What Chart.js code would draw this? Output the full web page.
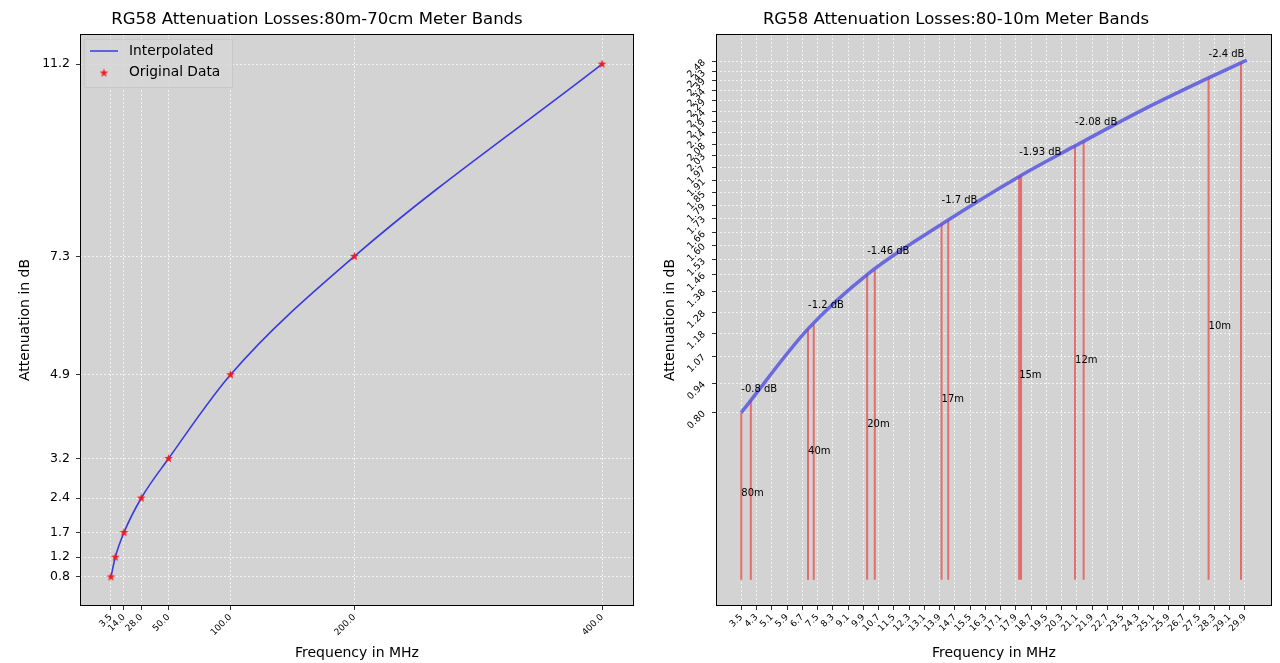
<!DOCTYPE html>
<html>
<head>
<meta charset="utf-8">
<script src="https://cdn.jsdelivr.net/npm/chart.js@4.4.1/dist/chart.umd.min.js"></script>
<style>
  html, body { margin: 0; padding: 0; background: #fff; }
  #wrap { position: relative; width: 1280px; height: 663px; }
  .box { position: absolute; top: 0; width: 640px; height: 663px; }
</style>
</head>
<body>
<div id="wrap">
  <div class="box" style="left:0"><canvas id="allBands" width="640" height="663"></canvas></div>
  <div class="box" style="left:640px"><canvas id="hfBands" width="640" height="663"></canvas></div>
</div>
<script>
// left chart: 80m - 70cm
const allFreq = [3.5, 7.0, 14.0, 28.0, 50.0, 100.0, 200.0, 400.0];
const allLoss = [0.8, 1.2, 1.7, 2.4, 3.2, 4.9, 7.3, 11.2];
const allFreqTicks = [3.5, 14.0, 28.0, 50.0, 100.0, 200.0, 400.0];
const allLossTicks = [0.8, 1.2, 1.7, 2.4, 3.2, 4.9, 7.3, 11.2];

// right chart: 80m - 10m
const hfFreq = [3.5, 7.0, 10.1, 14.0, 18.1, 21.0, 24.5, 28.0, 30.0];
const hfLoss = [0.80, 1.20, 1.46, 1.70, 1.93, 2.075, 2.245, 2.40, 2.485];
const bandEdges = [3.5, 4.0, 7.0, 7.3, 10.1, 10.5, 14.0, 14.35, 18.068, 18.168, 21.0, 21.45, 28.0, 29.7];
const bandTops = [0.80, 0.86, 1.20, 1.22, 1.46, 1.48, 1.70, 1.72, 1.93, 1.935, 2.075, 2.095, 2.40, 2.475];
const bandNames = ['80m', '40m', '20m', '17m', '15m', '12m', '10m'];
const bandDb = ['-0.8 dB', '-1.2 dB', '-1.46 dB', '-1.7 dB', '-1.93 dB', '-2.08 dB', '-2.4 dB'];
const hfFreqTicks = [3.5, 4.3, 5.1, 5.9, 6.7, 7.5, 8.3, 9.1, 9.9, 10.7, 11.5, 12.3, 13.1, 13.9, 14.7, 15.5, 16.3,
    17.1, 17.9, 18.7, 19.5, 20.3, 21.1, 21.9, 22.7, 23.5, 24.3, 25.1, 25.9, 26.7, 27.5, 28.3, 29.1, 29.9];
const hfLossTicks = [0.80, 0.94, 1.07, 1.18, 1.28, 1.38, 1.46, 1.53, 1.60, 1.66, 1.73, 1.79, 1.85, 1.91, 1.97,
    2.03, 2.08, 2.14, 2.19, 2.24, 2.29, 2.34, 2.39, 2.43, 2.48];

Chart.defaults.font.family = "'DejaVu Sans', sans-serif";
Chart.defaults.color = '#000';

// matplotlib style filled star marker
const makeStar = (r, color) => {
    const c = document.createElement('canvas');
    c.width = c.height = r * 2 + 2;
    const g = c.getContext('2d');
    g.beginPath();
    for (let i = 0; i < 10; i++) {
        const a = -Math.PI / 2 + i * Math.PI / 5;
        const rr = i % 2 ? r * 0.42 : r;
        g.lineTo(r + 1 + rr * Math.cos(a), r + 1 + rr * Math.sin(a));
    }
    g.closePath();
    g.fillStyle = color;
    g.fill();
    return c;
};
const star = makeStar(4.5, '#ee1c25');

// grey plot area + black frame
const frame = {
    id: 'frame',
    beforeDraw(chart) {
        const a = chart.chartArea, ctx = chart.ctx;
        ctx.save();
        ctx.fillStyle = '#d3d3d3';
        ctx.fillRect(a.left, a.top, a.right - a.left, a.bottom - a.top);
        ctx.restore();
    },
    afterDraw(chart) {
        const a = chart.chartArea, ctx = chart.ctx;
        ctx.save();
        ctx.strokeStyle = '#000';
        ctx.lineWidth = 1;
        ctx.strokeRect(a.left + 0.5, a.top + 0.5, a.right - a.left - 1, a.bottom - a.top - 1);
        ctx.restore();
    }
};

const gridStyle = {
    color: 'rgba(255,255,255,0.9)',
    lineWidth: 0.8,
    tickColor: '#000',
    tickLength: 4,
    tickBorderDash: []
};
// in v4 border.dash is what dashes the grid lines
const borderStyle = { display: false, dash: [2, 2] };

const setTicks = arr => s => { s.ticks = arr.map(v => ({ value: v })); };

// legend inside the left plot
const innerLegend = {
    id: 'innerLegend',
    afterDatasetsDraw(chart) {
        const a = chart.chartArea, ctx = chart.ctx;
        const x0 = a.left + 4, y0 = a.top + 5;
        ctx.save();
        ctx.fillStyle = 'rgba(214,214,214,0.85)';
        ctx.strokeStyle = '#c8c8c8';
        ctx.fillRect(x0, y0, 148, 48);
        ctx.strokeRect(x0 + 0.5, y0 + 0.5, 148, 48);
        const line = chart.data.datasets[1], pts = chart.data.datasets[0];
        ctx.strokeStyle = line.borderColor;
        ctx.lineWidth = 1.5;
        ctx.beginPath();
        ctx.moveTo(x0 + 6, y0 + 12);
        ctx.lineTo(x0 + 34, y0 + 12);
        ctx.stroke();
        ctx.drawImage(star, x0 + 20 - 5.5, y0 + 34 - 5.5);
        ctx.fillStyle = '#000';
        ctx.font = "13.8px 'DejaVu Sans'";
        ctx.textBaseline = 'middle';
        ctx.fillText(line.label, x0 + 45, y0 + 12);
        ctx.fillText(pts.label, x0 + 45, y0 + 33);
        ctx.restore();
    }
};

new Chart(document.getElementById('allBands'), {
    type: 'line',
    data: {
        datasets: [{
            label: 'Original Data',
            data: allFreq.map((f, i) => ({ x: f, y: allLoss[i] })),
            showLine: false,
            pointStyle: star,
            pointRadius: 5,
            order: 0
        }, {
            label: 'Interpolated',
            data: allFreq.map((f, i) => ({ x: f, y: allLoss[i] })),
            borderColor: 'rgb(58,58,222)',
            borderWidth: 1.6,
            pointRadius: 0,
            cubicInterpolationMode: 'monotone',
            order: 1
        }]
    },
    options: {
        responsive: false,
        animation: false,
        events: [],
        layout: { padding: { left: 0, right: 6, top: 0, bottom: 0 } },
        plugins: {
            legend: { display: false },
            tooltip: { enabled: false },
            title: {
                display: true,
                text: 'RG58 Attenuation Losses:80m-70cm Meter Bands',
                font: { size: 16.5, weight: 'normal' },
                padding: { top: 10, bottom: 4.2 }
            }
        },
        scales: {
            x: {
                type: 'linear',
                min: -21.5,
                max: 425.8,
                afterBuildTicks: setTicks(allFreqTicks),
                afterFit: s => { s.height = 57; },
                grid: gridStyle,
                border: borderStyle,
                ticks: {
                    autoSkip: false,
                    minRotation: 45,
                    maxRotation: 45,
                    padding: 2,
                    font: { size: 9 },
                    callback: v => v.toFixed(1)
                },
                title: { display: true, text: 'Frequency in MHz', font: { size: 14 }, padding: { top: 0, bottom: 1 } }
            },
            y: {
                min: 0.21,
                max: 11.81,
                afterBuildTicks: setTicks(allLossTicks),
                afterFit: s => { s.width = 80; },
                grid: gridStyle,
                border: borderStyle,
                ticks: {
                    autoSkip: false,
                    padding: 6,
                    font: { size: 12.5 },
                    callback: v => v.toFixed(1)
                },
                title: { display: true, text: 'Attenuation in dB', font: { size: 14 }, padding: { top: 17, bottom: 0 } }
            }
        }
    },
    plugins: [frame, innerLegend]
});

// band name and loss texts on the right plot
const bandText = {
    id: 'bandText',
    afterDatasetsDraw(chart) {
        const xs = chart.scales.x, ys = chart.scales.y, ctx = chart.ctx;
        ctx.save();
        ctx.fillStyle = '#000';
        ctx.font = "10px 'DejaVu Sans'";
        ctx.textAlign = 'left';
        ctx.textBaseline = 'alphabetic';
        bandNames.forEach((name, i) => {
            const x = xs.getPixelForValue(bandEdges[i * 2]);
            const top = bandTops[i * 2];
            ctx.fillText(bandDb[i], x, ys.getPixelForValue(top + 0.1));
            ctx.fillText(name, x, ys.getPixelForValue(top / 2));
        });
        ctx.restore();
    }
};

const bandLines = bandEdges.map((f, i) => ({
    label: 'edge' + i,
    data: [{ x: f, y: 0 }, { x: f, y: bandTops[i] }],
    borderColor: 'rgba(230,90,90,0.85)',
    borderWidth: 2,
    pointRadius: 0,
    order: 1
}));

new Chart(document.getElementById('hfBands'), {
    type: 'line',
    data: {
        datasets: [{
            label: 'Interpolated',
            data: hfFreq.map((f, i) => ({ x: f, y: hfLoss[i] })),
            borderColor: 'rgba(80,80,225,0.8)',
            borderWidth: 3.5,
            pointRadius: 0,
            cubicInterpolationMode: 'monotone',
            order: 0
        }, ...bandLines]
    },
    options: {
        responsive: false,
        animation: false,
        events: [],
        layout: { padding: { left: 0, right: 8, top: 0, bottom: 0 } },
        plugins: {
            legend: { display: false },
            tooltip: { enabled: false },
            title: {
                display: true,
                text: 'RG58 Attenuation Losses:80-10m Meter Bands',
                font: { size: 16.5, weight: 'normal' },
                padding: { top: 10, bottom: 4.2 }
            }
        },
        scales: {
            x: {
                type: 'linear',
                min: 2.175,
                max: 31.325,
                afterBuildTicks: setTicks(hfFreqTicks),
                afterFit: s => { s.height = 57; },
                grid: gridStyle,
                border: borderStyle,
                ticks: {
                    autoSkip: false,
                    minRotation: 45,
                    maxRotation: 45,
                    padding: 2,
                    font: { size: 9 },
                    callback: v => v.toFixed(1)
                },
                title: { display: true, text: 'Frequency in MHz', font: { size: 14 }, padding: { top: 0, bottom: 1 } }
            },
            y: {
                min: -0.125,
                max: 2.61,
                afterBuildTicks: setTicks(hfLossTicks),
                afterFit: s => { s.width = 76; },
                grid: gridStyle,
                border: borderStyle,
                ticks: {
                    autoSkip: false,
                    minRotation: 45,
                    maxRotation: 45,
                    padding: 8,
                    font: { size: 9.5 },
                    callback: v => v.toFixed(2)
                },
                title: { display: true, text: 'Attenuation in dB', font: { size: 14 }, padding: { top: 22, bottom: 0 } }
            }
        }
    },
    plugins: [frame, bandText]
});
</script>
</body>
</html>
